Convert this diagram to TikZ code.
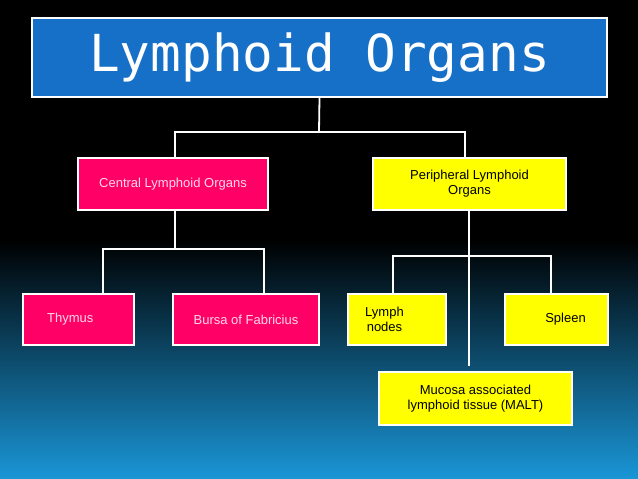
\documentclass[tikz,border=0pt]{standalone}
\usepackage{fontspec}
\setmainfont{Liberation Sans}
\newfontfamily\titlefont{DejaVu Sans Mono}
\definecolor{tblue}{RGB}{22,112,200}
\definecolor{pinkc}{RGB}{255,0,102}
\definecolor{yelc}{RGB}{255,255,0}
\definecolor{botblue}{RGB}{26,150,215}
\begin{document}
\begin{tikzpicture}[x=1pt,y=-1pt,
  box/.style={draw=white,line width=1.5pt,inner sep=0pt,align=center,font=\fontsize{13}{15}\selectfont},
  pk/.style={box,fill=pinkc,text=white!85!pinkc},
  yl/.style={box,fill=yelc,text=black},
  ln/.style={draw=white,line width=1.8pt}]
\fill[black] (0,0) rectangle (638,240);
\shade[top color=black,bottom color=botblue] (0,240) rectangle (638,479);
\useasboundingbox (0,0) rectangle (638,479);
\node[box,fill=tblue,minimum width=575pt,minimum height=79pt,font=\titlefont\fontsize{51}{55}\selectfont,text=white] (t) at (319.5,57.5) {Lymphoid Organs};
\node[pk,minimum width=190pt,minimum height=52pt] (c) at (173,184) {Central Lymphoid Organs};
\node[yl,minimum width=193pt,minimum height=52pt] (p) at (469.5,184) {Peripheral Lymphoid\\Organs};
\node[pk,minimum width=111pt,minimum height=51pt,anchor=west] (th) at (22,319.5) {\hspace*{6pt}Thymus\hspace*{22pt}};
\node[pk,minimum width=146pt,minimum height=51pt] (bu) at (246,319.5) {Bursa of Fabricius};
\node[yl,minimum width=98pt,minimum height=51pt] (ly) at (397,319.5) {\hspace*{-25pt}Lymph\\\hspace*{-25pt}nodes};
\node[yl,minimum width=103pt,minimum height=51pt] (sp) at (556.5,319.5) {\hspace*{18pt}Spleen};
\node[yl,minimum width=193pt,minimum height=53pt] (ma) at (475.5,398.5) {Mucosa associated\\lymphoid tissue (MALT)};
\coordinate (j1) at (319,132);
\draw[ln] (t.south) -- (j1);
\draw[ln] (c.north -| 175,0) |- (j1) -| (p.north -| 465,0);
\coordinate (j2) at (175,249);
\draw[ln] (c.south -| 175,0) -- (j2);
\draw[ln] (th.north -| 103,0) |- (j2) -| (bu.north -| 264,0);
\draw[ln] (p.south -| 469,0) -- (469,366);
\draw[ln] (ly.north -| 393,0) |- (469,256) -| (sp.north -| 551,0);
\end{tikzpicture}
\end{document}
